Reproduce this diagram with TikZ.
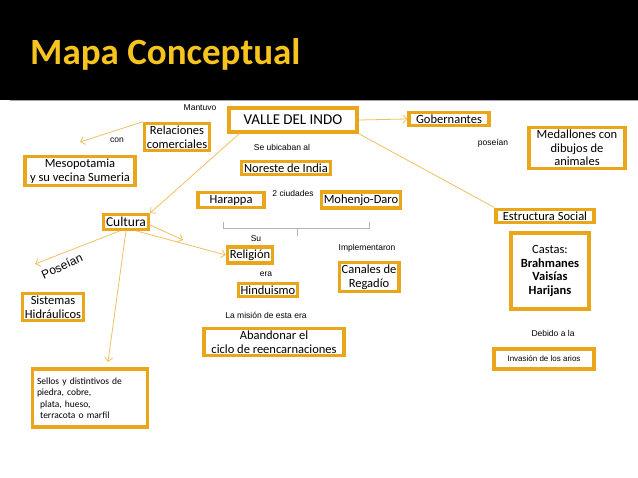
\documentclass[tikz,border=0pt]{standalone}
\usepackage{fontspec}
\setmainfont{Carlito}
\newfontfamily\arialf{Liberation Sans}
\usetikzlibrary{arrows.meta,decorations.pathreplacing}
\definecolor{og}{HTML}{E9A61A}
\definecolor{ln}{HTML}{F0C060}
\definecolor{ttl}{HTML}{F7C41E}
\begin{document}
\begin{tikzpicture}[x=1pt,y=-1pt,
 bx/.style={draw=og,line width=3.2pt,inner sep=2.5pt,align=center,font=\fontsize{12.5}{13.5}\selectfont},
 lb/.style={font=\arialf\fontsize{8.5}{9.5}\selectfont,inner sep=0pt},
 ar/.style={draw=ln,line width=0.8pt,-{Straight Barb[length=4pt,width=8pt]}},
 pl/.style={draw=ln,line width=0.8pt}]
\useasboundingbox (0,0) rectangle (638,478);
\fill[black] (0,0) rectangle (638,100);
\draw[gray!70,line width=0.6pt] (10,100.5) -- (638,100.5);
\node[anchor=west,text=ttl,font=\bfseries\fontsize{37}{38}\selectfont,inner sep=0pt] (title) at (30,54) {Mapa Conceptual};
\node[bx,font=\fontsize{15}{16}\selectfont,minimum width=128pt,minimum height=24pt] (valle) at (293,120) {VALLE DEL INDO};
\node[bx,minimum width=80pt] (gob) at (449,119) {Gobernantes};
\node[bx,minimum width=96pt] (med) at (577,148) {Medallones con\\dibujos de\\animales};
\node[lb] (pos1) at (493,143) {poseían};
\node[bx] (rel) at (177,137) {Relaciones\\comerciales};
\node[lb] (con) at (117,140) {con};
\node[lb] (man) at (200,108) {Mantuvo};
\node[bx,minimum width=110pt] (meso) at (80,171) {Mesopotamia\\y su vecina Sumeria};
\node[lb] (ubi) at (282,147) {Se ubicaban al};
\node[bx] (nor) at (286,168) {Noreste de India};
\node[bx,minimum width=66pt] (har) at (231,200) {Harappa};
\node[lb] (dos) at (293,193) {2 ciudades};
\node[bx] (moh) at (361,200) {Mohenjo-Daro};
\draw[gray!60,line width=0.6pt] (223,222) -- (223,228) -- (369,228) -- (369,222) (297,228) -- (297,236);
\node[bx,font=\fontsize{13.5}{14.5}\selectfont] (cul) at (126,222) {Cultura};
\node[bx,minimum width=98pt] (est) at (545,216) {Estructura Social};
\node[bx,minimum width=78pt,minimum height=76pt] (cas) at (550,271) {Castas:\\\textbf{Brahmanes}\\\textbf{Vaisías}\\\textbf{Harijans}};
\node[lb] (su) at (256,239) {Su};
\node[bx] (reli) at (250,255) {Religión};
\node[lb] (imp) at (367,248) {Implementaron};
\node[bx] (can) at (369,277) {Canales de\\Regadío};
\node[lb] (era) at (266,274) {era};
\node[bx] (hin) at (268,290) {Hinduismo};
\node[font=\arialf\fontsize{12}{13}\selectfont,rotate=25,inner sep=0pt] (posn) at (62,266) {Poseían};
\node[bx] (sis) at (53,307) {Sistemas\\Hidráulicos};
\node[lb] (mis) at (266,315) {La misión de esta era};
\node[bx,minimum width=140pt] (aba) at (274,342) {Abandonar el\\ciclo de reencarnaciones};
\node[lb] (deb) at (553,333) {Debido a la};
\node[bx,font=\arialf\fontsize{8}{9}\selectfont,minimum width=100pt,minimum height=20pt] (inv) at (544,359) {Invasión de los arios};
\node[bx,font=\fontsize{9.5}{11.5}\selectfont,align=left,minimum width=115pt,minimum height=58pt,text width=106pt] (sel) at (90,398) {Sellos y distintivos de\\piedra, cobre,\\\ plata, hueso,\\\ terracota o marfil};
\coordinate (m1) at (80,142);
\coordinate (c1) at (183,240);
\coordinate (c2) at (35,264);
\coordinate (c3) at (108,362);
\draw[ar] (rel.north west) -- (m1);
\draw[ar] (valle.east) -- (gob.west);
\draw[pl] (valle.south east) -- (est.north west);
\draw[ar] (valle.south west) ++(12,0) -- (cul.north east);
\draw[ar] (cul.east) ++(0,3) -- (c1);
\draw[ar] (cul.south) ++(10,0) -- (reli.west);
\draw[ar] (cul.south) ++(-6,0) -- (c2);
\draw[ar] (cul.south) -- (c3);
\end{tikzpicture}
\end{document}
